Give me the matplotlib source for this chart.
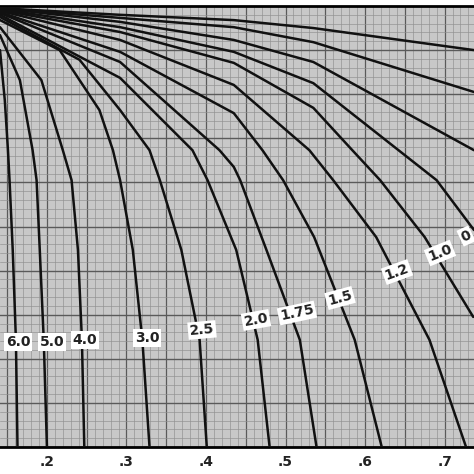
import matplotlib
matplotlib.use("Agg")
import matplotlib.pyplot as plt
import numpy as np

# curves: x values (abscissa) and y values (fraction of height)
curve_names = ["6.0", "5.0", "4.0", "3.0", "2.5", "2.0", "1.75", "1.5", "1.2", "1.0", "0.8", "0.6", "0.5", "0.4"]
c_x = {
    "6.0": [0.141, 0.147, 0.151, 0.153, 0.157, 0.161, 0.163],
    "5.0": [0.141, 0.166, 0.182, 0.187, 0.191, 0.196, 0.200],
    "4.0": [0.141, 0.193, 0.220, 0.231, 0.239, 0.244, 0.247],
    "3.0": [0.141, 0.216, 0.266, 0.283, 0.292, 0.308, 0.320, 0.329],
    "2.5": [0.141, 0.241, 0.292, 0.329, 0.342, 0.369, 0.392, 0.401],
    "2.0": [0.141, 0.292, 0.383, 0.402, 0.438, 0.465, 0.480],
    "1.75": [0.141, 0.292, 0.417, 0.435, 0.443, 0.476, 0.518, 0.539],
    "1.5": [0.141, 0.292, 0.435, 0.471, 0.497, 0.536, 0.587, 0.621],
    "1.2": [0.141, 0.292, 0.435, 0.530, 0.560, 0.614, 0.681, 0.727],
    "1.0": [0.141, 0.292, 0.435, 0.535, 0.584, 0.619, 0.675, 0.736],
    "0.8": [0.141, 0.292, 0.435, 0.535, 0.690, 0.737],
    "0.6": [0.141, 0.292, 0.435, 0.535, 0.737],
    "0.5": [0.141, 0.292, 0.435, 0.535, 0.737],
    "0.4": [0.141, 0.292, 0.435, 0.535, 0.737],
}
c_y = {
    "6.0": [0.900, 0.787, 0.673, 0.605, 0.447, 0.243, 0.0],
    "5.0": [0.934, 0.832, 0.673, 0.605, 0.447, 0.243, 0.0],
    "4.0": [0.952, 0.832, 0.673, 0.605, 0.447, 0.243, 0.0],
    "3.0": [0.968, 0.900, 0.764, 0.673, 0.605, 0.447, 0.243, 0.0],
    "2.5": [0.975, 0.878, 0.764, 0.673, 0.605, 0.447, 0.243, 0.0],
    "2.0": [0.980, 0.837, 0.673, 0.605, 0.447, 0.243, 0.0],
    "1.75": [0.984, 0.873, 0.673, 0.635, 0.605, 0.447, 0.243, 0.0],
    "1.5": [0.986, 0.896, 0.757, 0.673, 0.605, 0.476, 0.243, 0.0],
    "1.2": [0.989, 0.923, 0.821, 0.673, 0.605, 0.476, 0.243, 0.0],
    "1.0": [0.991, 0.941, 0.871, 0.769, 0.673, 0.605, 0.476, 0.295],
    "0.8": [0.993, 0.952, 0.896, 0.825, 0.605, 0.492],
    "0.6": [0.995, 0.964, 0.923, 0.873, 0.673],
    "0.5": [0.995, 0.973, 0.952, 0.918, 0.805],
    "0.4": [0.995, 0.980, 0.968, 0.950, 0.900],
}
tick_vals = [0.2, 0.3, 0.4, 0.5, 0.6, 0.7]
tick_labels = [".2", ".3", ".4", ".5", ".6", ".7"]
label_text = ["6.0", "5.0", "4.0", "3.0", "2.5", "2.0", "1.75", "1.5", "1.2", "1.0", "0"]
label_px = [(18, 342), (52, 342), (85, 340), (147, 338), (202, 330), (256, 320),
            (297, 313), (340, 298), (397, 272), (440, 253), (466, 236)]
label_rot = [0, 0, 0, 0, 5, 10, 12, 15, 20, 22, 25]

fig = plt.figure(figsize=(4.74, 4.74), dpi=100)
fig.patch.set_facecolor("white")
ax = fig.add_axes([0, 27/474, 1, 441/474])
ax.set_facecolor("#c8c8c8")
ax.set_xlim(0.141, 0.737)
ax.set_ylim(0, 1)

for v in np.arange(0.14, 0.74, 0.01):
    ax.axvline(v, color="#909090", lw=0.45, zorder=1)
for v in np.arange(0.15, 0.74, 0.05):
    ax.axvline(v, color="#5a5a5a", lw=0.9, zorder=1)
for v in np.arange(0.0, 1.0, 0.02):
    ax.axhline(v, color="#909090", lw=0.45, zorder=1)
for v in np.arange(0.0, 1.0, 0.1):
    ax.axhline(v, color="#5a5a5a", lw=1.0, zorder=1)

for n in curve_names:
    ax.plot(c_x[n], c_y[n], color="#111111", lw=1.8, zorder=3,
            solid_joinstyle="round", solid_capstyle="round")

for t, (px, py), r in zip(label_text, label_px, label_rot):
    ax.text(px/474, (447-py)/441, t, transform=ax.transAxes, ha="center", va="center",
            fontsize=10, fontweight="bold", color="#222222", rotation=r, zorder=5,
            bbox=dict(boxstyle="square,pad=0.12", fc="white", ec="none"))

ax.set_xticks(tick_vals)
ax.set_xticklabels(tick_labels, fontsize=10, fontweight="bold", color="#222222")
ax.tick_params(axis="x", length=0, pad=6)
ax.set_yticks([])
for s in ["left", "right"]:
    ax.spines[s].set_visible(False)
ax.spines["top"].set_linewidth(2)
ax.spines["bottom"].set_linewidth(2)
fig.savefig("out.png", dpi=100)
